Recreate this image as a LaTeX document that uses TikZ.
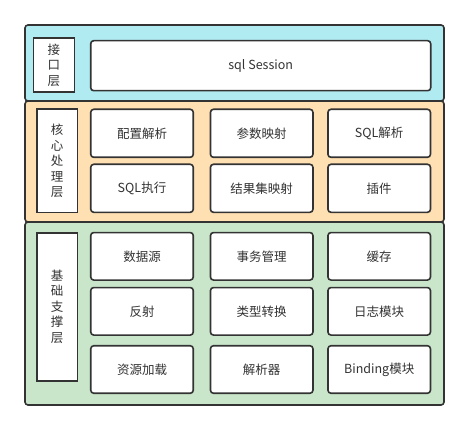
\documentclass[tikz,border=0pt]{standalone}
\usepackage{fontspec}
\setmainfont{Noto Sans CJK SC}
\usepackage{tikz}
\usetikzlibrary{positioning}
\definecolor{linegray}{HTML}{333333}
\definecolor{apicyan}{HTML}{B1EBF2}
\definecolor{corepeach}{HTML}{FFE0B3}
\definecolor{basegreen}{HTML}{C9E6CA}
\tikzset{
   layer/.style={draw=linegray, line width=1.6pt, rounded corners=3pt, minimum width=419pt, inner sep=0pt},
   tag/.style={draw=linegray, fill=white, line width=1.6pt, minimum width=40.6pt, align=center, inner sep=0pt,
               text=linegray, font=\fontsize{12.5}{15.5}\selectfont},
   cell/.style={draw=linegray, fill=white, line width=1.6pt, rounded corners=3pt, minimum width=102.5pt,
                minimum height=47.5pt, inner sep=0pt, text=linegray, font=\fontsize{12.5}{15}\selectfont}
}

\begin{document}
\begin{tikzpicture}[x=1pt,y=-1pt]
  \useasboundingbox (0,0) rectangle (470,430);

  % layers
  \node[layer, fill=apicyan,   minimum height=76pt]  (api)  at (234.5,63)    {};
  \node[layer, fill=corepeach, minimum height=121pt] (core) at (234.5,161.5) {};
  \node[layer, fill=basegreen, minimum height=183pt] (base) at (234.5,313.5) {};

  % layer tags
  \node[tag, minimum width=41pt, minimum height=54pt] (apitag)  at (53.8,65.3)  {接\\口\\层};
  \node[tag, minimum height=103pt]                    (coretag) at (57,160.8)   {核\\心\\处\\理\\层};
  \node[tag, minimum height=148pt]                    (basetag) at (57,306.7)   {基\\础\\支\\撑\\层};

  % interface layer
  \node[cell, minimum width=340pt, minimum height=50pt] (session) at (260.7,65.7) {sql Session};

  % core layer
  \foreach \name/\x/\y/\txt in {conf/142/133.3/配置解析, param/261.7/133.3/参数映射, sqlparse/379.2/133.3/SQL解析,
                                exec/142/188.3/SQL执行, result/261.7/188.3/结果集映射, plugin/379.2/188.3/插件}
    \node[cell, minimum height=48pt] (\name) at (\x,\y) {\txt};

  % base layer
  \foreach \name/\x/\y/\txt in {ds/142/256.3/数据源, tx/261.7/256.3/事务管理, cache/379.2/256.3/缓存,
                                refl/142/311.3/反射, conv/261.7/311.3/类型转换, log/379.2/311.3/日志模块,
                                io/142/369.5/资源加载, parser/261.7/369.5/解析器, bind/379.2/369.5/Binding模块}
    \node[cell] (\name) at (\x,\y) {\txt};
\end{tikzpicture}
\end{document}
